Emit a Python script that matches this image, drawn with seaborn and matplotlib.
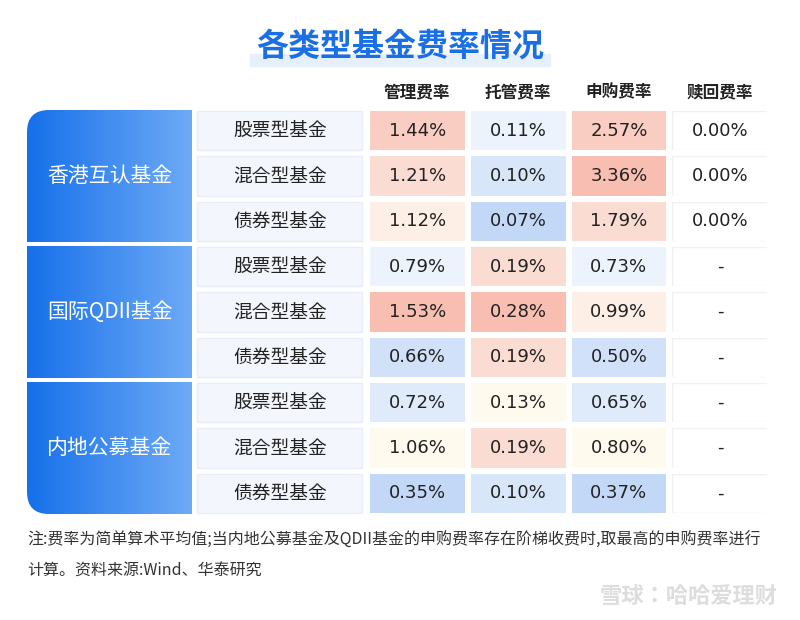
import numpy as np
import pandas as pd
import seaborn as sns
import matplotlib.pyplot as plt
from matplotlib import font_manager
from matplotlib.colors import LinearSegmentedColormap
from matplotlib.patches import Rectangle, FancyBboxPatch

# 找一个可用的中文黑体
cjk = sorted({f.name for f in font_manager.fontManager.ttflist if "Sans CJK" in f.name})
cjk_name = "Noto Sans CJK SC" if "Noto Sans CJK SC" in cjk else (cjk[0] if cjk else "DejaVu Sans")
plt.rcParams["font.family"] = "sans-serif"
plt.rcParams["font.sans-serif"] = [cjk_name, "DejaVu Sans"]

# 数据
groups = ["香港互认基金", "国际QDII基金", "内地公募基金"]
fund_types = ["股票型基金", "混合型基金", "债券型基金"]
columns = ["管理费率", "托管费率", "申购费率", "赎回费率"]
mgmt_fee = [1.44, 1.21, 1.12, 0.79, 1.53, 0.66, 0.72, 1.06, 0.35]
custody_fee = [0.11, 0.10, 0.07, 0.19, 0.28, 0.19, 0.13, 0.19, 0.10]
subs_fee = [2.57, 3.36, 1.79, 0.73, 0.99, 0.50, 0.65, 0.80, 0.37]
redeem_fee = [0.00, 0.00, 0.00, None, None, None, None, None, None]

df = pd.DataFrame({"管理费率": mgmt_fee, "托管费率": custody_fee, "申购费率": subs_fee})
# 每列按排名着色
color_val = df.rank(method="average").sub(1).div(len(df) - 1)
color_val["赎回费率"] = np.nan
labels = df.map(lambda v: f"{v:.2f}%")
labels["赎回费率"] = [f"{v:.2f}%" if v is not None else "-" for v in redeem_fee]

cmap = LinearSegmentedColormap.from_list(
    "fee", [(0, "#c3d8f7"), (0.3, "#e4eefc"), (0.45, "#f6f8fd"), (0.5, "#fefaee"),
            (0.6, "#fdf3ea"), (0.75, "#fbdcd3"), (1, "#f8beb1")])

fig = plt.figure(figsize=(8, 6.2), dpi=100)
ax = fig.add_axes([0, 0, 1, 1])
ax.set_xlim(0, 800)
ax.set_ylim(620, 0)
ax.axis("off")

# 标题
ax.add_patch(Rectangle((250, 54), 300, 12, color="#e6effc", zorder=1))
ax.text(400, 47, "各类型基金费率情况", ha="center", va="center", fontsize=23,
        fontweight="bold", color="#1a6fe6", zorder=2)

top, bottom = 108, 516
row_h = (bottom - top) / 9
col_x = [367, 467, 568, 669, 770]
for i, c in enumerate(columns):
    ax.text((col_x[i] + col_x[i + 1]) / 2, 92, c, ha="center", va="center",
            fontsize=12, fontweight="bold", color="#222222")

# 分组色块
grad = np.linspace(0, 1, 200).reshape(1, -1)
gcmap = LinearSegmentedColormap.from_list("g", ["#1670ea", "#6eaaf6"])
for g, name in enumerate(groups):
    y0 = top + g * 3 * row_h + 2
    y1 = y0 + 3 * row_h - 4
    im = ax.imshow(grad, cmap=gcmap, extent=(27, 192, y1, y0), aspect="auto", zorder=2)
    if g == 0:
        clip = FancyBboxPatch((27, y0), 220, y1 - y0 + 60,
                              boxstyle="round,pad=0,rounding_size=22", transform=ax.transData)
        im.set_clip_path(clip)
    elif g == 2:
        clip = FancyBboxPatch((27, y0 - 60), 220, y1 - y0 + 60,
                              boxstyle="round,pad=0,rounding_size=22", transform=ax.transData)
        im.set_clip_path(clip)
    ax.text(110, (y0 + y1) / 2, name, ha="center", va="center", fontsize=15,
            color="white", zorder=3)
    for r, ft in enumerate(fund_types):
        ry = top + (g * 3 + r) * row_h
        ax.add_patch(Rectangle((197, ry + 3), 165, row_h - 6, facecolor="#f3f6fd",
                               edgecolor="#e8edf7", lw=1, zorder=2))
        ax.text(280, ry + row_h / 2, ft, ha="center", va="center", fontsize=13.5,
                color="#222222", zorder=3)
    ax.set_ylim(620, 0)

# 赎回费率列
for r in range(9):
    ry = top + r * row_h
    ax.add_patch(Rectangle((672, ry + 3), 96, row_h - 6, facecolor="white",
                           edgecolor="#eef0f4", lw=1, zorder=2))
    ax.text(720, ry + row_h / 2, labels["赎回费率"][r], ha="center", va="center",
            fontsize=13, color="#222222", zorder=3, fontfamily="DejaVu Sans")

# 费率热力格
hax = fig.add_axes([col_x[0] / 800, 1 - bottom / 620,
                    (col_x[-1] - col_x[0]) / 800, (bottom - top) / 620])
hax.patch.set_alpha(0)
sns.heatmap(color_val, ax=hax, cmap=cmap, vmin=0, vmax=1, cbar=False,
            annot=labels.values, fmt="", linewidths=3, linecolor="white",
            annot_kws={"fontsize": 13, "color": "#222222"})
for t in hax.texts:
    t.set_fontfamily("DejaVu Sans")
    t.set_color("#222222")
hax.set_xticks([])
hax.set_yticks([])
hax.set_xlabel("")
hax.set_ylabel("")

# 注释
ax.text(27, 540, "注:费率为简单算术平均值;当内地公募基金及QDII基金的申购费率存在阶梯收费时,取最高的申购费率进行",
        ha="left", va="center", fontsize=11.5, color="#333333")
ax.text(27, 571, "计算。资料来源:Wind、华泰研究", ha="left", va="center",
        fontsize=11.5, color="#333333")
ax.text(778, 596, "雪球：哈哈爱理财", ha="right", va="center", fontsize=16,
        color="#dddddd", fontweight="bold")

fig.savefig("out.png", dpi=100)
